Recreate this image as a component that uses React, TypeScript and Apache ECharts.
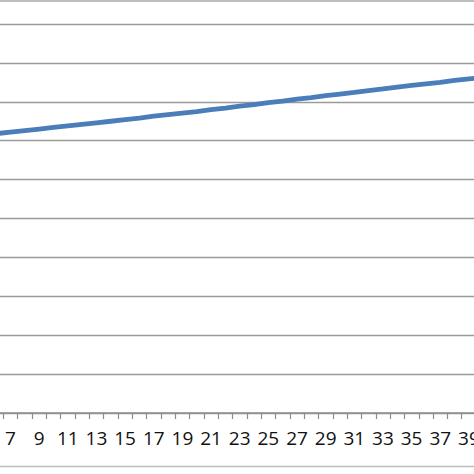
import React, { useEffect, useRef } from "react";
import * as echarts from "echarts";

const categories = [
  "6", "7", "8", "9", "10", "11", "12", "13", "14", "15", "16", "17", "18", "19", "20",
  "21", "22", "23", "24", "25", "26", "27", "28", "29", "30", "31", "32", "33", "34", "35",
  "36", "37", "38", "39", "40",
];

const values = [
  7.18, 7.22, 7.26, 7.3, 7.34, 7.38, 7.42, 7.46, 7.5, 7.54, 7.58, 7.63, 7.67, 7.71, 7.75,
  7.8, 7.84, 7.89, 7.93, 7.98, 8.02, 8.07, 8.11, 8.16, 8.2, 8.24, 8.29, 8.33, 8.38, 8.42,
  8.46, 8.5, 8.55, 8.59, 8.63,
];

const yMin = 0;
const yMax = 11;
const yStep = 1;

export default function App() {
  const ref = useRef<HTMLDivElement>(null);

  useEffect(() => {
    if (!ref.current) return;
    const chart = echarts.init(ref.current, null, { renderer: "svg" });
    chart.setOption({
      animation: false,
      backgroundColor: "#ffffff",
      grid: {
        left: -11,
        right: -16.4,
        top: -14.9,
        bottom: 61,
        containLabel: false,
        outerBoundsMode: "none",
      },
      xAxis: {
        type: "category",
        data: categories,
        boundaryGap: true,
        axisLine: { show: true, lineStyle: { color: "#8c8c8c", width: 1.5 } },
        axisTick: { show: true, interval: 0, length: 6, lineStyle: { color: "#8c8c8c", width: 1.2 } },
        axisLabel: {
          interval: (_i: number, v: string) => Number(v) % 2 === 1,
          color: "#111111",
          fontFamily: "Open Sans",
          fontSize: 19,
          margin: 15,
        },
        splitLine: { show: false },
      },
      yAxis: {
        type: "value",
        min: yMin,
        max: yMax,
        interval: yStep,
        axisLabel: { show: false },
        axisLine: { show: false },
        axisTick: { show: false },
        splitLine: { show: true, lineStyle: { color: "#9a9a9a", width: 1.4 } },
      },
      graphic: [
        { type: "line", shape: { x1: 0, y1: 1, x2: 474, y2: 1 }, style: { stroke: "#bdbdbd", lineWidth: 2 } },
        { type: "line", shape: { x1: 0, y1: 466.5, x2: 474, y2: 466.5 }, style: { stroke: "#bdbdbd", lineWidth: 1.5 } },
      ],
      series: [
        {
          type: "line",
          data: values,
          symbol: "none",
          lineStyle: { color: "#4a7ebb", width: 4.8 },
        },
      ],
    });
    return () => chart.dispose();
  }, []);

  return (
    <div
      ref={ref}
      style={{ position: "fixed", left: 0, top: 0, width: 474, height: 474 }}
    />
  );
}
